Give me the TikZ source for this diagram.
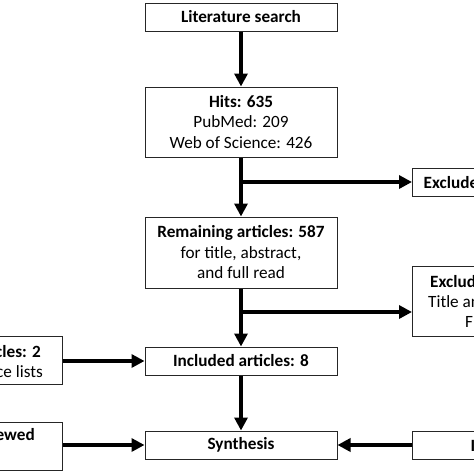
\documentclass[tikz,border=0pt]{standalone}
\usepackage{fontspec}
\setmainfont{Carlito}
\usetikzlibrary{arrows.meta}
\begin{document}
\begin{tikzpicture}[x=1pt,y=-1pt,
  txt/.style={font=\fontsize{17.2}{20.5}\selectfont, inner sep=0pt},
  mbox/.style={draw=black!85, line width=1pt, minimum width=192pt, inner sep=0pt, align=center, font=\fontsize{17.2}{20.5}\selectfont},
  sbox/.style={draw=black!85, line width=1pt, inner sep=0pt},
  conn/.style={line width=4pt, -{Triangle[length=13pt,width=13pt]}}]
\useasboundingbox (0,0) rectangle (474,474);
\clip (0,0) rectangle (474,474);
% main column
\node[mbox, minimum height=28pt] (lit) at (241,17) {\textbf{Literature search}};
\node[mbox, minimum height=70pt] (hits) at (241,122) {\textbf{Hits: 635}\\PubMed: 209\\Web of Science: 426};
\node[mbox, minimum height=71pt] (rem) at (241,252.5) {\textbf{Remaining articles: 587}\\for title, abstract,\\and full read};
\node[mbox, minimum height=28pt] (inc) at (241,361) {\textbf{Included articles: 8}};
\node[mbox, minimum height=28pt] (syn) at (241,445) {\textbf{Synthesis}};
% right boxes
\node[sbox, minimum width=160pt, minimum height=28pt, anchor=west] (ex1) at (412,182) {};
\node[txt, anchor=base west] (ex1t) at (423.5,188) {\textbf{Excluded: 48}};
\node[sbox, minimum width=160pt, minimum height=70pt, anchor=north west] (ex2) at (412,266) {};
\coordinate (ex2in) at (412,312);
\node[txt, anchor=base west] (ex2a) at (430,287) {\textbf{Excluded: 579}};
\node[txt, anchor=base west] (ex2b) at (428,307) {Title and abstract: 562};
\node[txt, anchor=base west] (ex2c) at (465,327) {Full text: 17};
\node[sbox, minimum width=160pt, minimum height=28pt, anchor=west] (r3) at (412,445) {};
\node[txt, anchor=base west] (r3t) at (470.5,451) {\textbf{Interviews}};
% left boxes
\node[sbox, minimum width=200pt, minimum height=48pt, anchor=north east] (l1) at (63,336) {};
\node[txt, anchor=base east] (l1a) at (41,357) {\textbf{Additional articles: 2}};
\node[txt, anchor=base east] (l1b) at (43,377) {from reference lists};
\node[sbox, minimum width=200pt, minimum height=48pt, anchor=north east] (l2) at (63,422) {};
\node[txt, anchor=base east] (l2a) at (35,440) {\textbf{Reviewed}};
% connectors
\coordinate (b1) at (hits.south |- ex1.west);
\coordinate (b2) at (rem.south |- ex2in);
\draw[conn] (lit.south) -- (hits.north);
\draw[conn] (hits.south) -- (rem.north);
\draw[conn] (b1) -- (ex1.west);
\draw[conn] (rem.south) -- (inc.north);
\draw[conn] (b2) -- (ex2in);
\draw[conn] (inc.south) -- (syn.north);
\draw[conn] (l1.east |- inc.west) -- (inc.west);
\draw[conn] (l2.east |- syn.west) -- (syn.west);
\draw[conn] (r3.west) -- (syn.east);
\end{tikzpicture}
\end{document}
